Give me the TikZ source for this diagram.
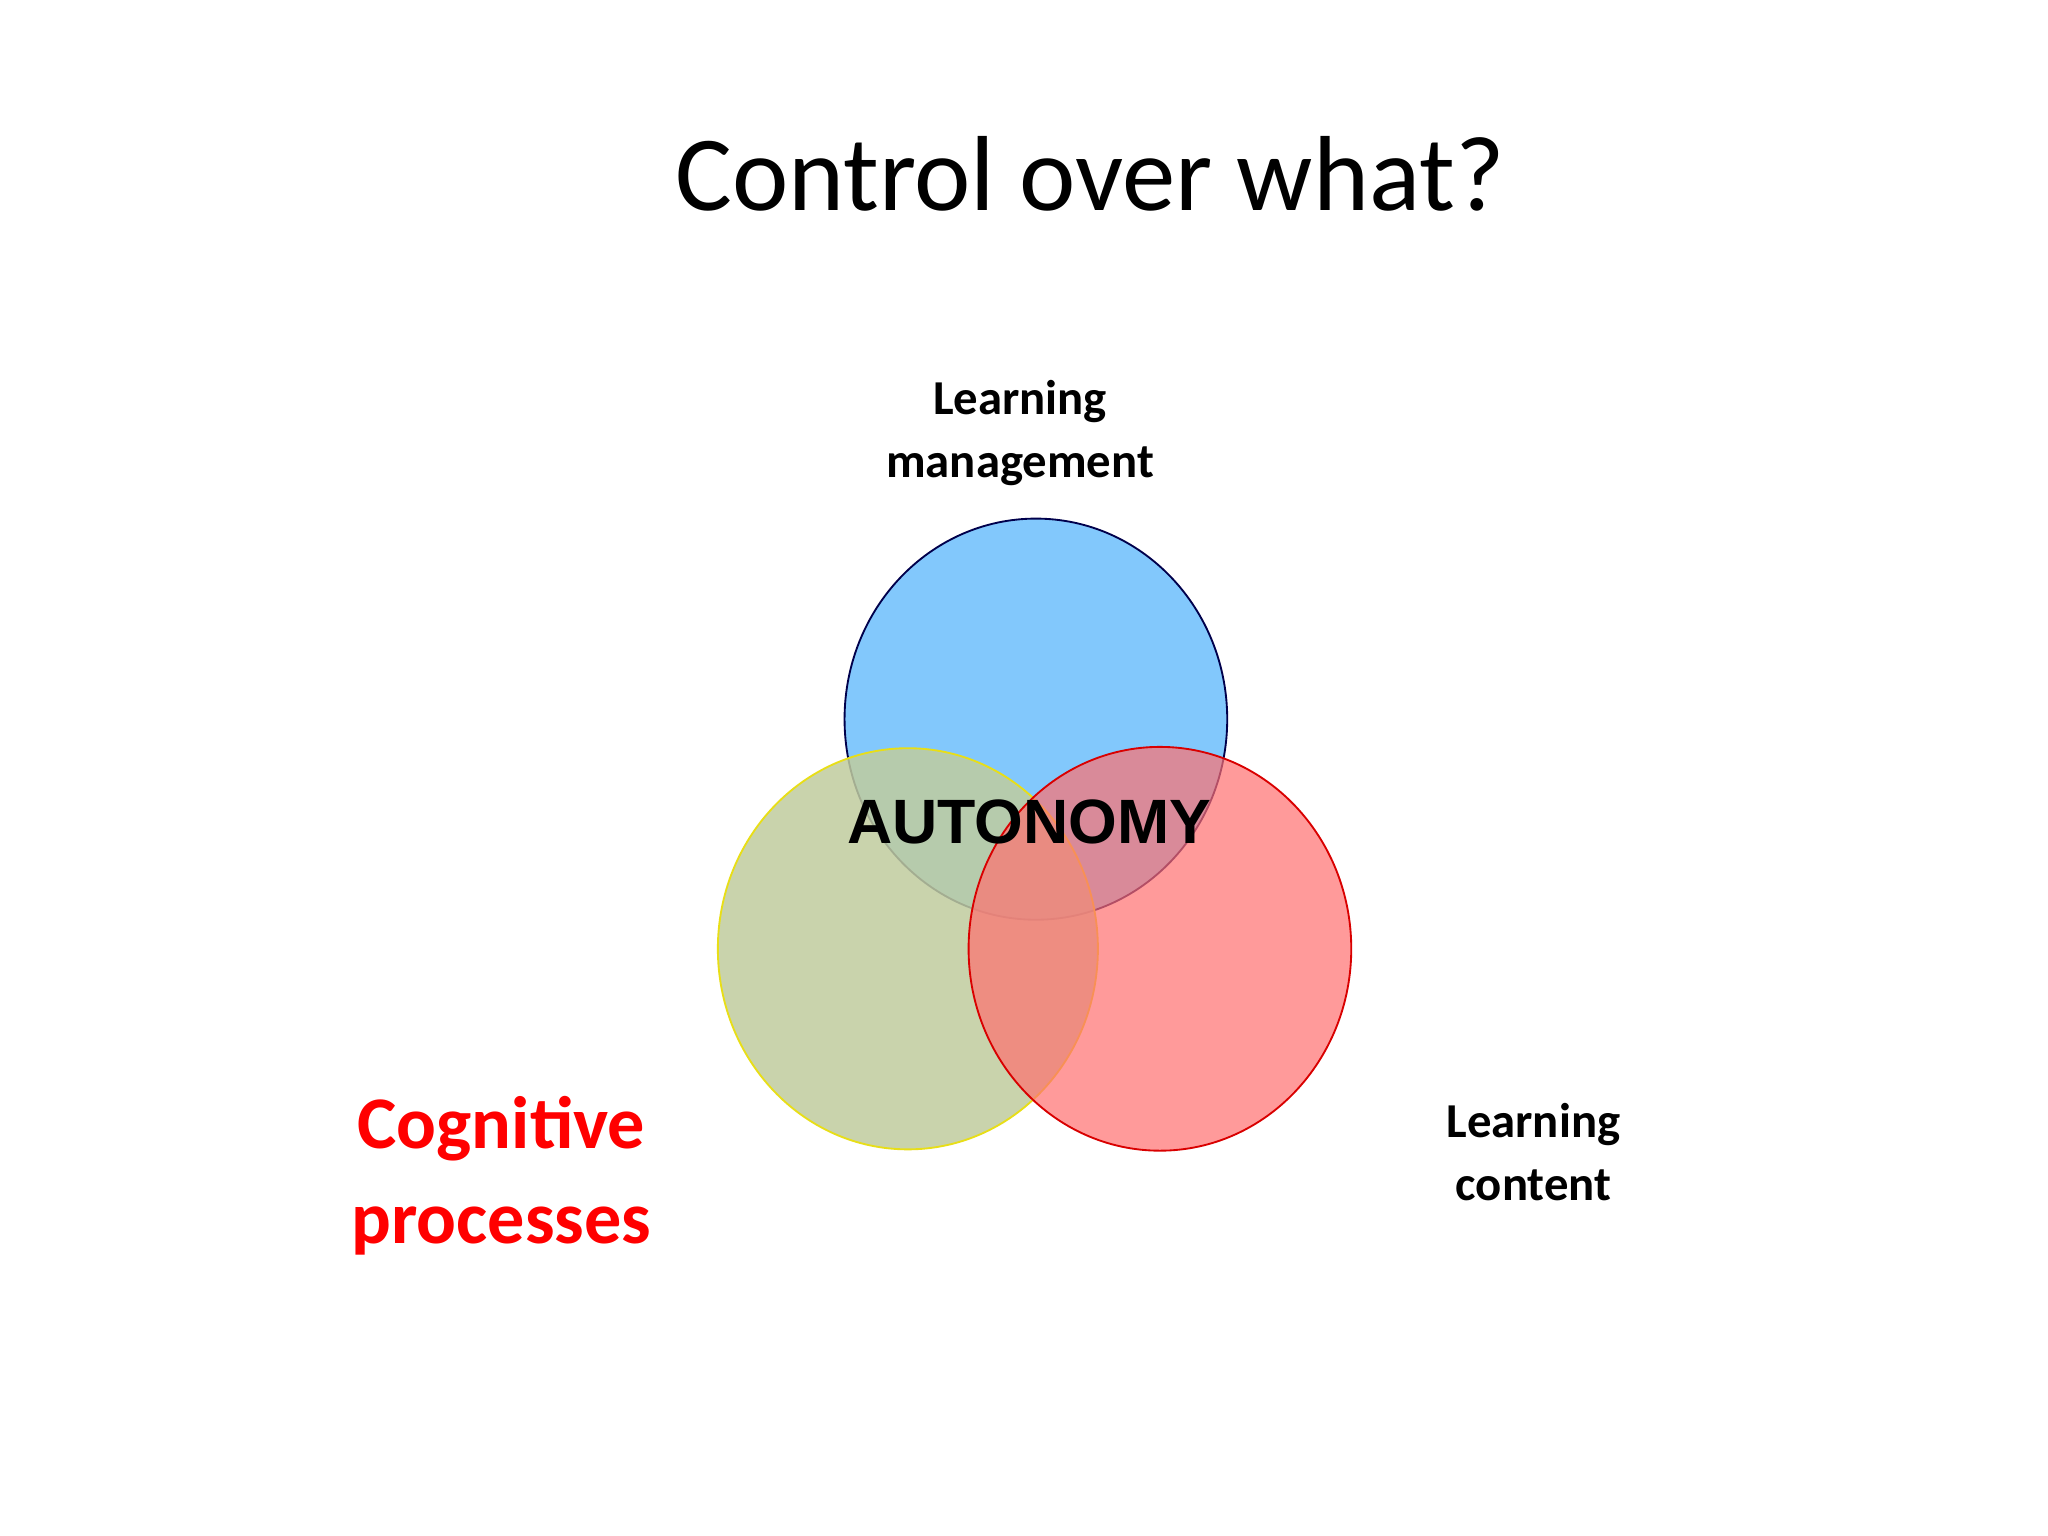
\documentclass[tikz,border=0pt]{standalone}
\usepackage{fontspec}
\setmainfont{Carlito}
\newfontfamily\arialf{Liberation Sans}
\definecolor{cblue}{HTML}{82C8FC}
\definecolor{cgreen}{HTML}{C0CC9E}
\definecolor{cred}{HTML}{FF7070}
\begin{document}
\begin{tikzpicture}[x=0.01cm,y=-0.01cm,
  lbl/.style={align=center,font=\fontsize{10.5pt}{13.5pt}\selectfont\bfseries}]
\useasboundingbox (0,0) rectangle (1552,1164);
\fill[white] (0,0) rectangle (1552,1164);
\node (title) at (826,132) {\fontsize{23pt}{27pt}\selectfont Control over what?};
\node[lbl] (lm) at (773,328) {Learning\\management};
\node[lbl] (lc) at (1162,873) {Learning\\content};
\node[align=center,text=red,font=\fontsize{16pt}{20.5pt}\selectfont\bfseries] (cp) at (380,891) {Cognitive\\processes};
\draw[fill=cblue,draw=black!70!blue] (785,545) ellipse [x radius=145, y radius=152];
\draw[fill=cgreen,fill opacity=0.85,draw=yellow!90!black] (688,719) ellipse [x radius=144, y radius=152];
\draw[fill=cred,fill opacity=0.7,draw=red!85!black] (879,719) ellipse [x radius=145, y radius=153];
\node (auto) at (780,623) {\arialf\bfseries\fontsize{13.5pt}{16pt}\selectfont AUTONOMY};
\end{tikzpicture}
\end{document}
